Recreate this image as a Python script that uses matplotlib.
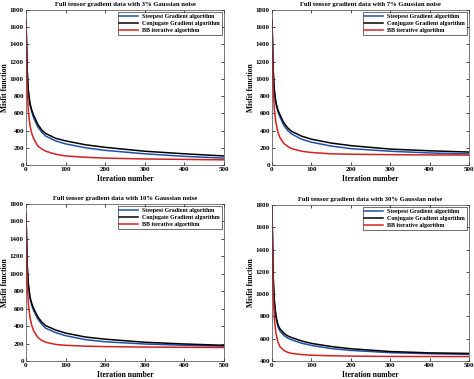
import matplotlib
matplotlib.use("Agg")
import matplotlib.pyplot as plt

plt.rcParams["font.family"] = ["Liberation Serif", "DejaVu Serif"]
plt.rcParams["font.weight"] = "bold"

# iteration sample points
iters = [0, 3, 6, 10, 15, 20, 30, 40, 50, 75, 100, 150, 200, 300, 400, 500]

titles = [
    "Full tensor gradient data with 3% Gaussian noise",
    "Full tensor gradient data with 7% Gaussian noise",
    "Full tensor gradient data with 10% Gaussian noise",
    "Full tensor gradient data with 30% Gaussian noise",
]
labels = ["Steepest Gradient algorithm", "Conjugate Gradient algorithm", "BB iterative algorithm"]
colors = ["#1f4fa8", "black", "#d62020"]

# misfit values per panel: steepest, conjugate, BB
steepest = [
    [1680, 1100, 850, 700, 610, 540, 440, 380, 335, 280, 245, 200, 170, 130, 100, 80],
    [1680, 1100, 860, 710, 620, 560, 460, 400, 360, 300, 265, 220, 190, 160, 140, 128],
    [1690, 1100, 870, 720, 630, 570, 480, 420, 375, 325, 290, 245, 220, 195, 180, 170],
    [1760, 1150, 930, 790, 710, 670, 630, 605, 590, 560, 540, 512, 495, 475, 465, 460],
]
conjugate = [
    [1680, 1100, 860, 715, 630, 570, 470, 405, 365, 310, 280, 235, 205, 160, 130, 105],
    [1680, 1100, 870, 725, 640, 585, 490, 430, 390, 335, 300, 255, 225, 185, 165, 150],
    [1690, 1100, 880, 735, 650, 595, 505, 445, 405, 355, 320, 275, 250, 215, 195, 180],
    [1760, 1150, 940, 805, 725, 690, 650, 625, 610, 580, 558, 530, 510, 485, 473, 468],
]
bb = [
    [1680, 900, 620, 460, 360, 300, 220, 185, 160, 125, 105, 90, 80, 70, 65, 60],
    [1680, 900, 640, 490, 380, 320, 250, 215, 190, 160, 145, 130, 125, 120, 117, 115],
    [1690, 900, 650, 500, 400, 340, 270, 235, 215, 190, 180, 170, 165, 160, 157, 155],
    [1760, 1000, 780, 650, 570, 530, 495, 478, 468, 458, 452, 447, 444, 441, 440, 440],
]
ylims = [(0, 1800), (0, 1800), (0, 1800), (400, 1800)]

fig = plt.figure(figsize=(4.74, 3.79), dpi=100)
boxes = [
    (26 / 474, 1 - 165 / 379, 198 / 474, 155 / 379),
    (272 / 474, 1 - 165 / 379, 197 / 474, 155 / 379),
    (26 / 474, 1 - 361 / 379, 198 / 474, 157 / 379),
    (272 / 474, 1 - 361 / 379, 197 / 474, 156 / 379),
]

for i in range(4):
    ax = fig.add_axes(boxes[i])
    series = [steepest[i], conjugate[i], bb[i]]
    for vals, lab, col in zip(series, labels, colors):
        ax.plot(iters, vals, color=col, linewidth=1.1, label=lab)
    ax.set_xlim(0, 500)
    ax.set_ylim(*ylims[i])
    ax.set_yticks(range(ylims[i][0], 1801, 200))
    ax.set_xticks([0, 100, 200, 300, 400, 500])
    ax.tick_params(direction="in", top=True, right=True, labelsize=5, length=2, width=0.5, pad=1.5)
    for sp in ax.spines.values():
        sp.set_linewidth(0.5)
        sp.set_color("#444444")
    ax.set_title(titles[i], fontsize=4.8, fontweight="bold", pad=3)
    ax.set_xlabel("Iteration number", fontsize=5.5, fontweight="bold", labelpad=2)
    ax.set_ylabel("Misfit function", fontsize=5.5, fontweight="bold", labelpad=0.5)
    leg = ax.legend(loc="upper right", fontsize=4.3, frameon=True, fancybox=False,
                    handlelength=3.2, borderpad=0.3, labelspacing=0.25, handletextpad=0.6,
                    borderaxespad=0.4)
    leg.get_frame().set_edgecolor("black")
    leg.get_frame().set_linewidth(0.5)

fig.savefig("out.png", dpi=100)
